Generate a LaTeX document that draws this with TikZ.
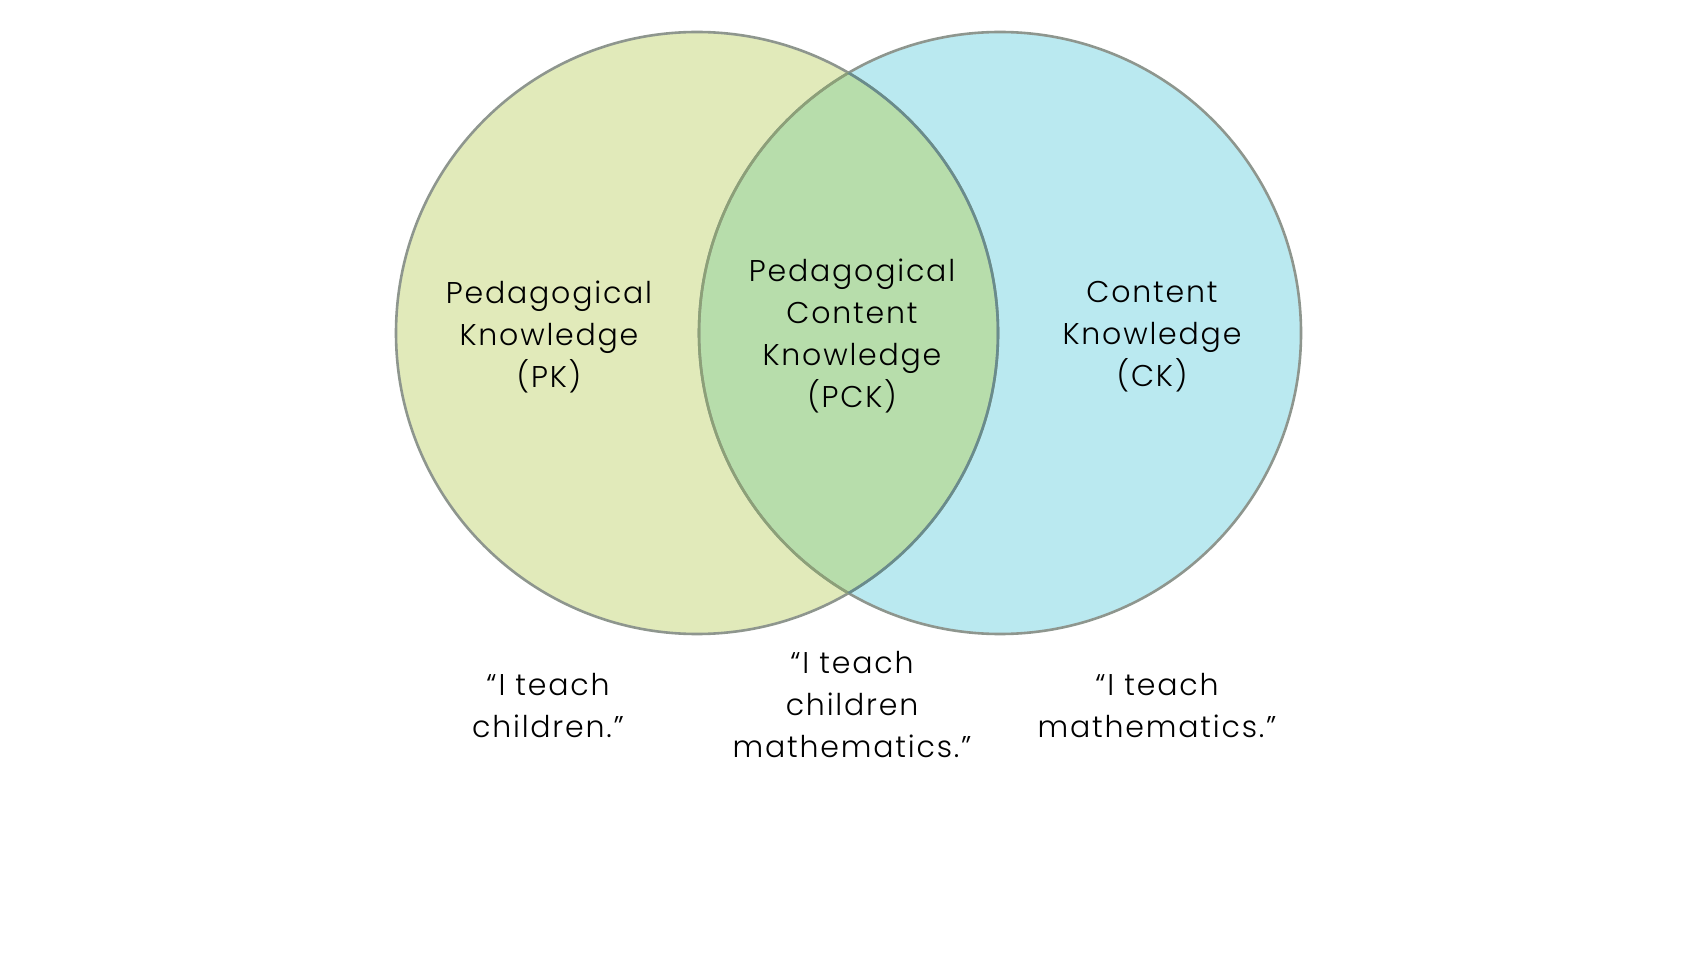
\documentclass[tikz,border=0pt]{standalone}
\usepackage{fontspec}
\setmainfont{Poppins}[UprightFont=* Light, LetterSpace=6]
\definecolor{pkfill}{RGB}{225,234,186}
\definecolor{ckfill}{RGB}{186,233,240}
\definecolor{pckfill}{RGB}{183,221,171}
\definecolor{rimgray}{RGB}{142,150,142}
\definecolor{rimolive}{RGB}{140,160,120}
\definecolor{rimteal}{RGB}{105,140,140}
\tikzset{
    label/.style={align=center, font=\fontsize{15}{21}\selectfont, text=black, inner sep=0pt}
}

\begin{document}
\begin{tikzpicture}[x=0.5pt, y=-0.5pt]
        \useasboundingbox[fill=white] (0, 0) rectangle (1700, 956);
        \coordinate (pk) at (697, 333);
        \coordinate (ck) at (1000, 333);
        \fill[pkfill] (pk) circle[radius=150.5pt];
        \fill[ckfill] (ck) circle[radius=150.5pt];
        \begin{scope}
            \clip (pk) circle[radius=150.5pt];
            \fill[pckfill] (ck) circle[radius=150.5pt];
        \end{scope}
        \draw[rimgray, line width=1.3pt] (pk) circle[radius=150.5pt];
        \draw[rimgray, line width=1.3pt] (ck) circle[radius=150.5pt];
        \begin{scope}
            \clip (pk) circle[radius=150.5pt];
            \draw[rimolive, line width=1.3pt] (ck) circle[radius=150.5pt];
        \end{scope}
        \begin{scope}
            \clip (ck) circle[radius=150.5pt];
            \draw[rimteal, line width=1.3pt] (pk) circle[radius=150.5pt];
        \end{scope}
        \node[label] (pklabel) at (549, 337) {Pedagogical\\Knowledge\\(PK)};
        \node[label] (pcklabel) at (852, 336) {Pedagogical\\Content\\Knowledge\\(PCK)};
        \node[label] (cklabel) at (1152, 337) {Content\\Knowledge\\(CK)};
        \node[label] (pkquote) at (548, 706) {“I teach\\children.”};
        \node[label] (pckquote) at (852, 705) {“I teach\\children\\mathematics.”};
        \node[label] (ckquote) at (1157, 706) {“I teach\\mathematics.”};
    \end{tikzpicture}
\end{document}
